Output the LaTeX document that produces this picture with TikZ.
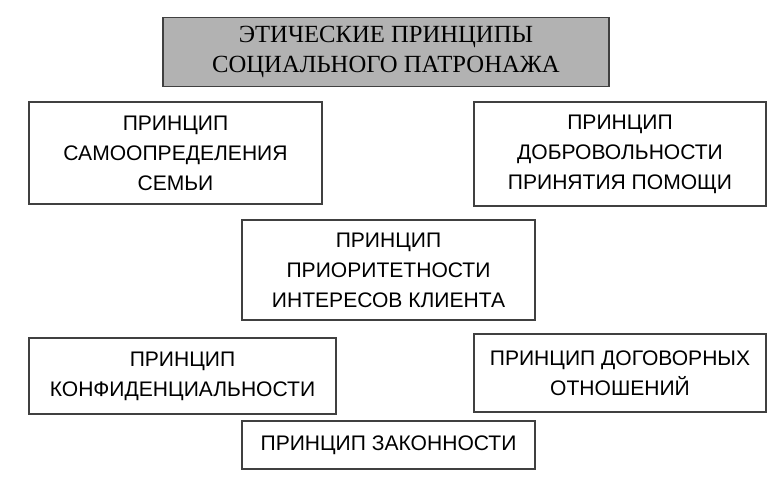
\documentclass[tikz,border=0pt]{standalone}
\usepackage{fontspec}
\setmainfont{Liberation Serif}
\setsansfont{Liberation Sans}

\begin{document}
\begin{tikzpicture}[x=0.75pt,y=-0.75pt,
	box/.style={draw=black!75,line width=0.9pt,align=center,inner sep=0pt,
		font=\sffamily\fontsize{15.8}{22.5}\selectfont},
	titlebox/.style={box,fill=black!30,font=\rmfamily\fontsize{18.5}{23}\selectfont}]
	
	\useasboundingbox (0,0) rectangle (780,484);
	
	% Draw title
	\node[titlebox,minimum width=446*0.75pt,minimum height=69*0.75pt] (title) at (386,52)
		{ЭТИЧЕСКИЕ ПРИНЦИПЫ\\СОЦИАЛЬНОГО ПАТРОНАЖА};
	
	% Draw principles
	\node[box,minimum width=293*0.75pt,minimum height=102*0.75pt] (self) at (175.5,153)
		{ПРИНЦИП\\САМООПРЕДЕЛЕНИЯ\\СЕМЬИ};
	\node[box,minimum width=292*0.75pt,minimum height=104*0.75pt] (vol) at (620,154)
		{ПРИНЦИП\\ДОБРОВОЛЬНОСТИ\\ПРИНЯТИЯ ПОМОЩИ};
	\node[box,minimum width=293*0.75pt,minimum height=100*0.75pt] (prio) at (388.5,270)
		{ПРИНЦИП\\ПРИОРИТЕТНОСТИ\\ИНТЕРЕСОВ КЛИЕНТА};
	\node[box,minimum width=307*0.75pt,minimum height=76*0.75pt] (conf) at (182.5,376)
		{ПРИНЦИП\\КОНФИДЕНЦИАЛЬНОСТИ};
	\node[box,minimum width=292*0.75pt,minimum height=78*0.75pt] (contr) at (620,373)
		{ПРИНЦИП ДОГОВОРНЫХ\\ОТНОШЕНИЙ};
	\node[box,minimum width=293*0.75pt,minimum height=48*0.75pt] (law) at (388.5,445)
		{ПРИНЦИП ЗАКОННОСТИ};
	
\end{tikzpicture}
\end{document}
